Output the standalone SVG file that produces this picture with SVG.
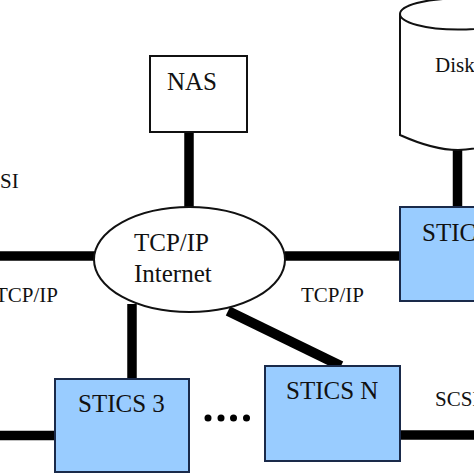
<svg xmlns="http://www.w3.org/2000/svg" width="474" height="474" viewBox="0 0 474 474">
<style>
.c{stroke:#000;stroke-width:9.5;fill:none}
.o{stroke:#111;stroke-width:2;fill:#fff}
.b{stroke:#1a2a4a;stroke-width:2;fill:#99ccff}
text{font-family:"Liberation Serif","Times New Roman",serif;fill:#111}
.l{font-size:25px}
.s{font-size:21px}
</style>
<rect width="474" height="474" fill="#fff"/>
<g id="connectors">
<line class="c" x1="189" y1="132" x2="189" y2="208"/>
<line class="c" x1="457.500" y1="150" x2="457.500" y2="208"/>
<line class="c" x1="0" y1="256" x2="95" y2="256"/>
<line class="c" x1="285" y1="256" x2="401" y2="256"/>
<line class="c" x1="132" y1="304" x2="132" y2="380"/>
<line class="c" x1="228" y1="311" x2="341" y2="366" style="stroke-width:10"/>
<line class="c" x1="0" y1="435.500" x2="56" y2="435.500"/>
<line class="c" x1="400" y1="435" x2="474" y2="435"/>
</g>
<g id="nas"><rect class="o" x="150" y="56" width="97" height="76"/><text class="l" x="167" y="90">NAS</text></g>
<g id="disk"><path class="o" d="M400 14V135C420 144 440 150 458 150S496 144 516 135V14"/><ellipse class="o" cx="458" cy="14" rx="58" ry="15.500"/><text class="s" x="435" y="72">Disk</text></g>
<g id="internet"><ellipse class="o" cx="189.500" cy="259.500" rx="95.500" ry="52.500"/><text class="l" x="134" y="251">TCP/IP</text><text class="l" x="134" y="282">Internet</text></g>
<g id="stics2"><rect class="b" x="400" y="207" width="80" height="94"/><text class="l" x="422" y="241">STICS</text></g>
<g id="stics3"><rect class="b" x="55" y="379" width="134" height="93"/><text class="l" x="78" y="412">STICS 3</text></g>
<g id="sticsn"><rect class="b" x="265" y="366" width="135" height="95"/><text class="l" x="286" y="399">STICS N</text></g>
<g id="dots"><circle cx="208" cy="418" r="3.500"/><circle cx="221" cy="418" r="3.500"/><circle cx="233.500" cy="418" r="3.500"/><circle cx="246.500" cy="418" r="3.500"/></g>
<g id="labels">
<text class="s" x="0" y="188">SI</text>
<text class="s" x="-5" y="302">TCP/IP</text>
<text class="s" x="301" y="302">TCP/IP</text>
<text class="s" x="435" y="406">SCSI</text>
</g>
</svg>
